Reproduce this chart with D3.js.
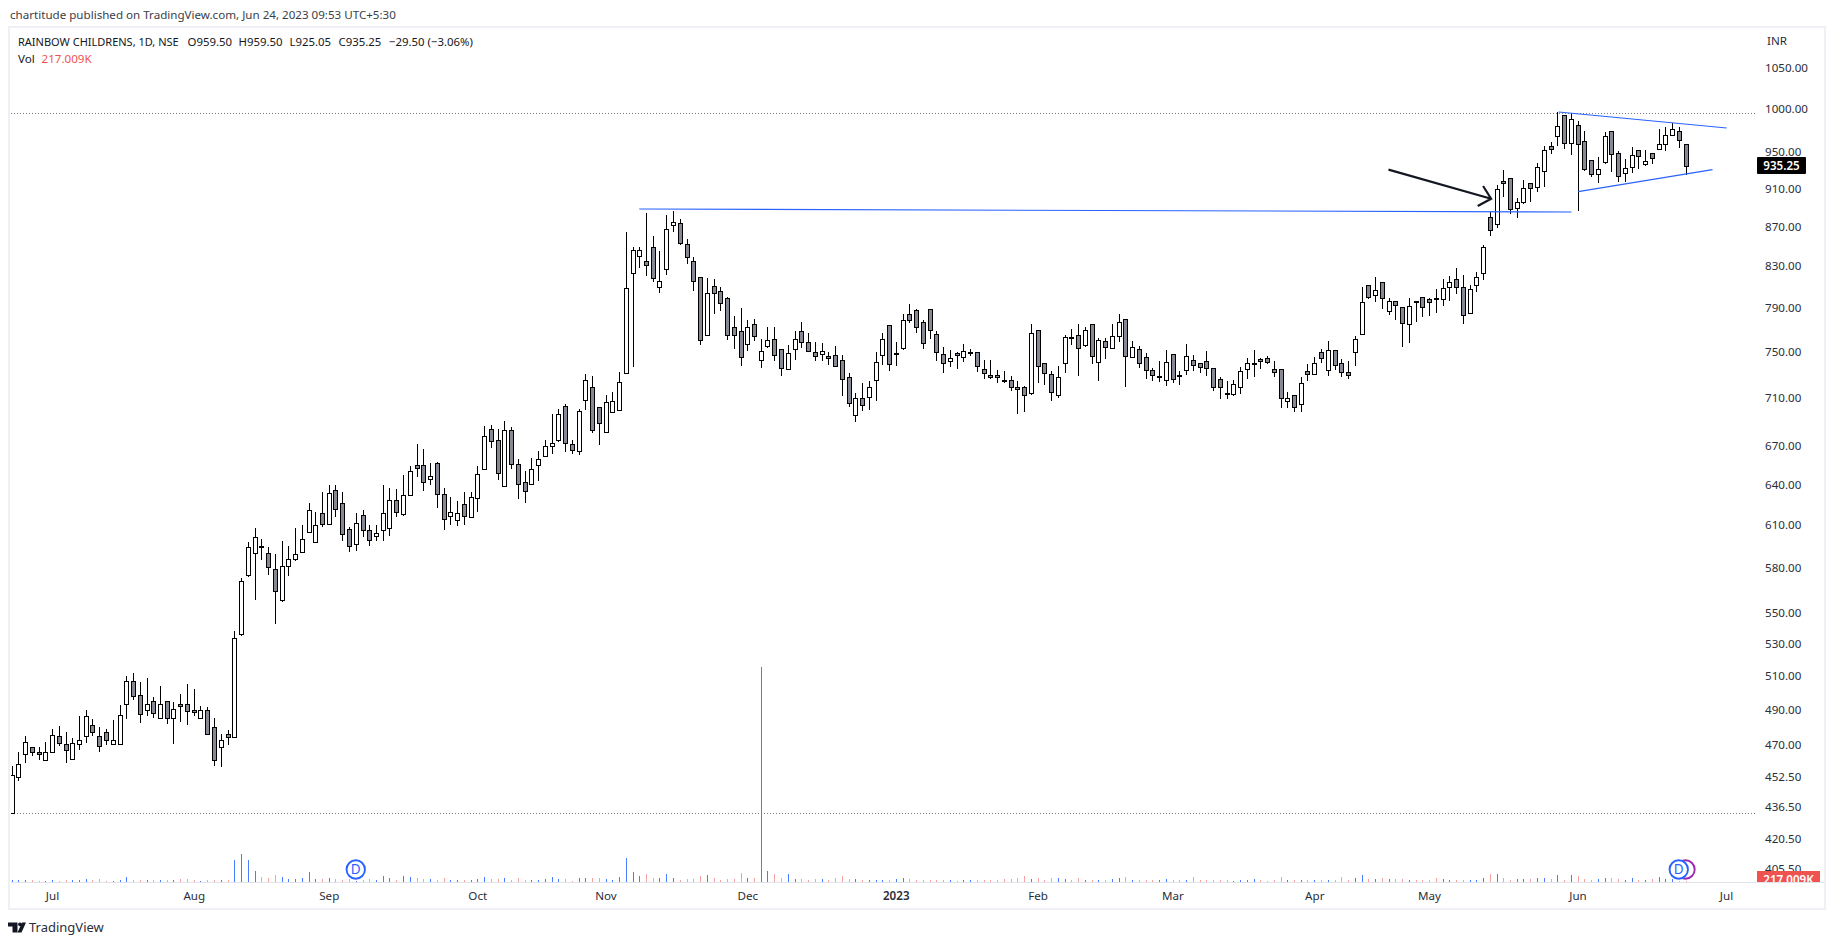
<!DOCTYPE html>
<html>
<head>
<meta charset="utf-8">
<script src="https://cdn.jsdelivr.net/npm/d3@7"></script>
<style>
  html, body { margin: 0; padding: 0; background: #fff; }
  svg { display: block; }
  text { font-family: "Noto Sans", sans-serif; fill: #131722; }
  .price-axis text, .time-axis text { font-size: 11.6px; fill: #2a2e39; }
</style>
</head>
<body>
<script>
// daily bars, oldest first
var opens = [433.3,452.2,464.7,468.9,465.8,461.4,465.8,474.8,470.3,462,
470.3,474.8,481,474.8,477,470.3,470.3,493.2,506.8,498.5,
489.7,495,485,495,485,493.2,493.2,489.7,485,489.7,
479.9,468.6,476,474.3,536,574.9,590,595.5,590,579,
558.1,581.1,585.9,590.7,605,597.9,618.8,610.7,635.9,626.2,
607.1,596.4,617.3,606.4,602.1,606.4,607.9,628.4,618,632.1,
655.1,655.1,644.3,656.6,632.9,616.5,613.6,625.4,615.8,629.9,
652.1,683.7,674.9,639,683,656,642.2,640.6,655.2,662.2,
670.2,675,702.8,671.8,666.2,707.8,718.8,702,681.4,697.8,
699.4,730.9,823,839.6,834.7,848.8,809.3,827,871.1,873.1,
851.8,834.7,819,764.6,810.3,805.4,798.9,771.8,768.2,756.4,
774.5,742.1,754.6,761,751.9,734.3,751.9,768.2,758.2,749.2,
747.4,745.6,746.5,742.1,727.4,695.3,709.4,710.3,724.8,746.5,
773.6,748,752.8,783.8,787.5,776.4,788.5,765.4,747.5,741.3,
748.4,744.8,749,749.3,734.2,729.2,729,724.7,724.7,718.8,
718.8,713.6,769,739.5,730,711.9,739.5,762.6,764.4,755.5,
774.6,740.4,759,752.8,763.5,779.2,744.8,752,744.8,733.3,
727.6,724.7,747.5,729,733.3,742.2,739.5,741.3,735,725.6,
713.6,712.8,718.8,734.2,739.2,743.1,744,734.2,734.2,706.8,
711.9,704.3,732.6,730,749.4,733.3,751.2,739.6,731.5,749.4,
765.5,811.4,801.8,814.4,786.8,796.1,790.5,774.8,796,799.9,
798,798.9,798,809.5,817.3,809.5,785,811.4,823,879.7,
872.3,918.1,921.3,889.1,895.4,915.9,911.6,928.9,957,968.3,
992.9,960.4,981.1,962.7,941.2,925.7,938.9,974,949.1,926.8,
933.3,952.5,936.7,949.1,953.6,959.3,969.4,974,959.5];

var highs = [458.2,465.8,474.8,468.9,468.6,471.4,478.7,480.4,477,473.7,
486.2,489.7,484.4,479.9,478.7,483.8,492.6,509.9,511.7,506.2,
508.7,497.3,503.8,495,494.4,499.1,505,502,492,491.4,
485,476,478.2,537.9,572.8,597.9,607.9,600,594.3,589.3,
598.6,595,607.9,610,626.2,619.5,634.4,639.6,639.6,634.4,
608.6,618.8,621,610,610,639.6,637.4,636.6,647.4,654.3,
671.6,667.6,656.6,657.4,637.4,630.7,627.7,634.4,634.4,654.3,
686.1,686.9,683.7,690.3,685.4,659.8,650.6,660.6,666.2,675,
696.1,700.3,704.4,675,700.3,730,728.3,702,712,714.5,
731.7,864,848.8,848.8,883.7,859.9,844.7,881.6,885.8,877.3,
856.9,838.6,819,818.1,817.1,809.3,799.8,782,789.5,778.2,
779.1,761,771.8,771.8,751.9,755.5,768.2,776.3,766.4,758.2,
757.3,749.2,754.6,746.5,730.9,713.6,722.2,723.9,749.2,766.4,
773.6,758.2,783.8,793.4,788.5,778.3,788.5,768.1,753.7,751.4,
749.3,756.4,752,749.3,742.2,742.2,733.3,732.5,728.2,723.8,
719.6,774.6,769,739.5,732.5,736.9,764.4,770,774.6,771.8,
774.6,761.7,761.7,774.6,783.8,779.2,759,754.6,748.4,735,
741.3,751.1,747.5,732.5,756.4,746.6,739.5,750.2,735,727.3,
723.9,724.7,736,744,751.1,744,745.7,741.3,734.2,714.5,
711.9,727.3,738.7,745.2,752,759.2,751.2,743.2,741.4,763.7,
809.5,811.4,819.2,814.4,798.9,796.1,790.5,798.9,796.1,799.9,
798.9,807.5,817.3,820.2,827.9,821.1,811.4,824,850.9,884.9,
914.1,930,921.3,899.6,919.2,915.9,937.8,957,961.5,996.8,
992.9,995.3,985.8,974,941.2,944.6,972.8,974,951.4,942.3,
955.9,952.5,952.5,949.1,976.8,978.8,983.5,978.8,959.5];

var lows = [433.3,450.4,460.2,463.9,461.8,461.4,465.8,469.5,460.2,462,
467.3,471.2,475.2,466.1,470.1,470.3,470.3,484.8,495.4,482.5,
486.5,485.4,485,481.9,470.3,483,481.3,486.5,485,475.3,
458.5,457.5,470.1,474.3,534.5,573.5,558.5,585.6,575.3,542.3,
556.8,574,584.3,590.7,605,597.1,608.6,610.7,615.8,598.4,
591.2,591.9,601.9,595.5,598.4,599,602.6,615.8,616.5,632.1,
645.6,635.6,639.6,622.9,606.4,610.5,609.3,610,615.8,620,
652.1,668.4,644,638.2,652.1,629.3,626.3,640.6,642.6,662.2,
663.5,673.4,665.1,663.5,662.7,699.4,680.6,670.7,681.4,697.8,
699.4,730.9,736,827.6,819.7,814.2,804.2,820.7,864.6,850.8,
831.8,806,755.2,764.6,783.9,786.4,760,751.6,736.6,750.7,
758.8,734.9,752.5,741.8,727.9,734.3,742.7,752.5,749.2,741,
741,737.5,736,710.8,701.7,689.2,698.3,699.2,706.7,738.1,
732.3,736.6,750.8,775.2,766.9,752,761.4,741,730.5,736,
734.8,740.1,745.4,732.2,725.3,725.3,721.9,722.7,715.1,695.8,
698.2,711.7,721.9,720.2,707.4,709.9,731.3,755.2,727.9,753.7,
738.4,723.6,742.8,752.8,757.9,718.5,744.8,735.6,725.3,723.6,
722.9,719.3,722.7,720.2,729.6,733,730.5,728.7,715.1,709.1,
709.1,710.8,713.3,725.3,727.6,734.8,738.4,727.3,701.5,701.5,
697.5,698.2,724,730,739.6,727.9,733.3,727.3,725.4,736.6,
765.5,798,795.1,788.7,782.8,778.1,753.6,757.2,776.3,781,
781.9,784.6,791.1,795.8,802.8,774.8,785,804.4,816,859.9,
868.5,900.7,882.4,878.3,893.3,895.1,906.1,911.2,948.4,957.4,
954,946.4,885.6,928.9,922.1,915.6,936.6,927.5,916.6,916.6,
926.4,931.8,935.1,936.3,953.6,951,969.4,954.4,925.05];

var closes = [453.3,459.3,471.4,466.1,464.7,465.8,475.3,470.8,466.9,470.8,
472.5,486.2,477,469.1,472.5,472.5,486.7,506.8,497.9,487.3,
493.2,487.9,493.2,485,490.3,492,489.1,488.5,489.7,476,
461.4,472.5,474.3,533.4,570.8,594.3,601.4,595,580.4,564,
581.1,585.9,589.3,600,621,610,610.7,633.6,621.7,603.6,
595,611.4,606.4,599.3,604.3,618.8,628.4,619.5,632.1,650.5,
652.8,641.9,646.6,632.9,614.3,619.5,618.8,616.5,630.7,648.2,
678.1,674.1,648.9,683,656,640.6,635.2,652.1,659.8,670.2,
672.6,696.1,672.6,667,698.6,724.8,683,688.6,706.1,707,
723,808.3,845.7,845.7,830.8,818.1,815.2,867,874.1,852.8,
838.6,815.2,760,803.6,803.6,794.2,764.6,764.6,744.7,771.8,
763.7,750.1,760,746.5,735.2,748.3,761,758.2,750.1,745.6,
750.1,743.9,736.9,725.6,705.3,709.4,703.6,718.7,740.4,761,
738.7,748.8,778.3,778.3,771.8,757.3,769,749.3,739.5,744,
746.6,750.2,749.6,736.9,730.8,727.9,727.3,723.8,718.8,717.1,
711.9,766.3,736.9,730.8,714.5,727.3,762.6,761.7,752.8,769,
745.7,760,753.7,763.5,776.4,745.7,753.7,739.5,733.3,729,
728,740.4,725.6,728.2,745.7,737.7,736,735,718.2,718.8,
712.8,721.3,732.5,739.5,739.8,741.3,740.4,731.6,709.4,709.4,
701.8,722.2,730,739.6,744,751.2,737.8,731.5,728.9,761,
795.1,799.9,806.6,798.9,796.1,792.4,775.7,791.4,795.2,790.5,
795.1,798,808.5,814.4,809.5,783.1,807.5,819.2,848.9,866,
909.4,915.9,888,895.4,910.5,910.5,933.3,952.5,953.6,979.9,
960.4,988.2,959.3,931.1,925.7,931.1,968.3,948,923.5,932.2,
946.8,945.6,940,943.5,959.3,969.4,976.4,963.8,935.25];

// volume in thousands
var volumes = [400,400,400,400,200,200,400,200,333,400,
400,600,400,533,200,200,400,1000,400,400,
333,400,400,400,400,600,600,400,200,400,
400,400,400,4400,5600,4400,2200,1000,800,1400,
1000,600,600,800,2000,600,600,800,600,400,
600,200,400,600,400,1200,800,400,1200,1000,
800,600,600,400,800,400,400,400,400,600,
1000,600,600,800,400,800,400,400,400,533,
1000,600,600,200,800,800,800,800,600,400,
1000,4800,2000,1200,1600,800,800,1600,800,400,
600,600,1200,1400,800,400,600,600,1800,800,
800,43000,2200,1600,800,1600,600,600,400,600,
600,400,800,1200,600,600,400,400,333,333,
400,600,800,600,400,400,400,400,400,400,
200,400,400,400,400,400,400,600,600,800,
1200,600,800,400,800,800,600,400,800,400,
400,400,400,600,800,1000,400,400,400,400,
400,600,400,333,333,1000,400,400,400,400,
333,200,400,400,600,400,200,400,1000,400,
333,400,400,333,400,333,400,1000,400,800,
1400,600,600,800,600,600,600,400,400,333,
400,800,600,400,400,400,333,400,800,1600,
1600,800,400,600,600,600,800,800,600,1400,
333,1400,1200,600,400,600,800,800,600,400,
800,400,333,600,1000,600,600,133,217.009];

var priceTicks = [1050,1000,950,910,870,830,790,750,710,670,640,610,580,550,530,510,490,470,452.5,436.5,420.5,405.5];
var monthLabels = ["Jul","Aug","Sep","Oct","Nov","Dec","2023","Feb","Mar","Apr","May","Jun","Jul"];
var monthBars = [6,27,47,69,88,109,131,152,172,193,210,232,254];

var extremeLevels = [995, 433.3];
// drawn lines as [bar, price, bar, price]
var blueLines = [[93,888.1,231.1,884.9],[229.2,996.5,254.1,977.8],[232.1,906.6,252,930.6]];
var arrowLine = [204,930.6,219.2,899];
// bar index of the dividend markers
var dividendBars = [51,247];
var earningsBars = [248];

var legendTexts = ["RAINBOW CHILDRENS, 1D, NSE", "O959.50", "H959.50", "L925.05", "C935.25", "−29.50 (−3.06%)"];
var legendX = [18, 187.5, 238.5, 289.5, 338.5, 389];

var width = 1835, height = 945;
var paneLeft = 11, paneRight = 1757, paneTop = 28, paneBottom = 882;

var x = d3.scaleLinear().domain([0, 248]).range([11.5, 1685.5]);
var y = d3.scaleLog().domain([1050, 510]).range([68, 676]);
var yVol = d3.scaleLinear().domain([0, 43000]).range([paneBottom, 667]);

var bars = d3.range(closes.length);
var snap = function(i) { return Math.round(x(i)) + 0.5; };

var svg = d3.select("body").append("svg")
    .attr("width", width)
    .attr("height", height);

svg.append("text").attr("x", 10).attr("y", 19)
    .style("font-size", "11.6px")
    .style("fill", "#3a3e4a")
    .text("chartitude published on TradingView.com, Jun 24, 2023 09:53 UTC+5:30");

// frame of the chart
svg.append("rect")
    .attr("x", 9).attr("y", 27)
    .attr("width", 1816).attr("height", 882)
    .attr("fill", "#fff")
    .attr("stroke", "#eff0f5")
    .attr("stroke-width", 2);

svg.append("defs").append("clipPath").attr("id", "pane")
    .append("rect")
    .attr("x", paneLeft).attr("y", paneTop)
    .attr("width", paneRight - paneLeft).attr("height", paneBottom - paneTop);

var pane = svg.append("g").attr("clip-path", "url(#pane)");

// dotted lines at the high and the low
pane.selectAll(".extreme").data(extremeLevels).enter().append("line")
    .attr("class", "extreme")
    .attr("x1", paneLeft).attr("x2", paneRight)
    .attr("y1", function(d) { return Math.round(y(d)) + 0.5; })
    .attr("y2", function(d) { return Math.round(y(d)) + 0.5; })
    .attr("stroke", "#787b86")
    .attr("stroke-dasharray", "1,2");

// volume
pane.append("g").selectAll("rect").data(bars).enter().append("rect")
    .attr("x", function(i) { return Math.round(x(i)); })
    .attr("width", 1)
    .attr("y", function(i) { return yVol(volumes[i]); })
    .attr("height", function(i) { return paneBottom - yVol(volumes[i]); })
    .attr("shape-rendering", "crispEdges")
    .attr("fill", function(i) { return closes[i] >= opens[i] ? "#4a7cff" : "#f7a1a1"; });

// wicks then bodies
pane.append("g").selectAll("line").data(bars).enter().append("line")
    .attr("x1", snap).attr("x2", snap)
    .attr("y1", function(i) { return y(highs[i]); })
    .attr("y2", function(i) { return y(lows[i]); })
    .attr("stroke", "#000")
    .attr("stroke-width", 1)
    .attr("shape-rendering", "crispEdges");

pane.append("g").selectAll("rect").data(bars).enter().append("rect")
    .attr("x", function(i) { return snap(i) - 2; })
    .attr("width", 4)
    .attr("y", function(i) { return Math.round(y(Math.max(opens[i], closes[i]))) + 0.5; })
    .attr("height", function(i) {
        return Math.max(1, Math.round(Math.abs(y(opens[i]) - y(closes[i]))));
    })
    .attr("fill", function(i) { return closes[i] >= opens[i] ? "#fff" : "#868993"; })
    .attr("stroke", "#000")
    .attr("shape-rendering", "crispEdges");

// trend lines
pane.selectAll(".trend").data(blueLines).enter().append("line")
    .attr("class", "trend")
    .attr("x1", function(d) { return x(d[0]); })
    .attr("y1", function(d) { return y(d[1]); })
    .attr("x2", function(d) { return x(d[2]); })
    .attr("y2", function(d) { return y(d[3]); })
    .attr("stroke", "#2962ff")
    .attr("stroke-width", 1.1);

// arrow, the head is a fixed size at the tip
var tipX = x(arrowLine[2]), tipY = y(arrowLine[3]);
pane.append("path")
    .attr("d", "M" + x(arrowLine[0]) + "," + y(arrowLine[1]) + "L" + tipX + "," + tipY
        + "M" + (tipX - 8) + "," + (tipY - 12.7) + "L" + tipX + "," + tipY + "L" + (tipX - 13.4) + "," + (tipY + 7.3))
    .attr("fill", "none")
    .attr("stroke", "#131722")
    .attr("stroke-width", 2.2);

// separator above the time axis
svg.append("line")
    .attr("x1", paneLeft).attr("x2", 1824)
    .attr("y1", paneBottom + 0.5).attr("y2", paneBottom + 0.5)
    .attr("stroke", "#e0e3eb");

// marker circles sit on the volume
function marker(i, color, label) {
    var g = svg.append("g").attr("transform", "translate(" + x(i) + ",869.5)");
    g.append("circle").attr("r", 9.2).attr("fill", "#fff").attr("stroke", color).attr("stroke-width", 1.9);
    if (label) {
        g.append("text").attr("text-anchor", "middle").attr("y", 4.8)
            .style("font-size", "13.5px")
            .style("fill", color)
            .text(label);
    }
}
earningsBars.forEach(function(i) { marker(i, "#9c27b0", ""); });
dividendBars.forEach(function(i) { marker(i, "#2962ff", "D"); });

// axes
var priceAxis = d3.axisRight(y)
    .tickValues(priceTicks)
    .tickSize(0)
    .tickPadding(0)
    .tickFormat(d3.format(".2f"));

svg.append("g").attr("class", "price-axis")
    .attr("transform", "translate(1765,0)")
    .call(priceAxis)
    .call(function(g) { g.select(".domain").remove(); });

var timeAxis = d3.axisBottom(x)
    .tickValues(monthBars)
    .tickSize(0)
    .tickPadding(0)
    .tickFormat(function(d) { return monthLabels[monthBars.indexOf(d)]; });

svg.append("g").attr("class", "time-axis")
    .attr("transform", "translate(0,892)")
    .call(timeAxis)
    .call(function(g) {
        g.select(".domain").remove();
        g.selectAll("text").filter(function(d) { return d === 131; }).style("font-weight", 600);
    });

svg.append("text").attr("x", 1767).attr("y", 45)
    .style("font-size", "11.6px")
    .style("fill", "#2a2e39")
    .text("INR");

// last price and last volume labels
svg.append("rect")
    .attr("x", 1757).attr("y", y(closes[248]) - 8.5)
    .attr("width", 49).attr("height", 17)
    .attr("rx", 1)
    .attr("fill", "#000");
svg.append("text").attr("x", 1781.5).attr("y", y(closes[248]) + 4.5)
    .attr("text-anchor", "middle")
    .style("font-size", "11.6px").style("font-weight", 600).style("fill", "#fff")
    .text(d3.format(".2f")(closes[248]));

var volGroup = svg.append("g");
volGroup.append("defs").append("clipPath").attr("id", "vol-label")
    .append("rect").attr("x", 1757).attr("y", 871).attr("width", 63).attr("height", 11);
var volLabel = volGroup.append("g").attr("clip-path", "url(#vol-label)");
volLabel.append("rect")
    .attr("x", 1757).attr("y", 871)
    .attr("width", 63).attr("height", 17)
    .attr("fill", "#ef5350");
volLabel.append("text").attr("x", 1788.5).attr("y", 884)
    .attr("text-anchor", "middle")
    .style("font-size", "11.6px").style("font-weight", 600).style("fill", "#fff")
    .text("217.009K");

// header legend
svg.selectAll(".legend").data(legendTexts).enter().append("text")
    .attr("class", "legend")
    .attr("x", function(d, i) { return legendX[i]; })
    .attr("y", 46)
    .style("font-size", function(d, i) { return i === 0 ? "11px" : "11.4px"; })
    .text(function(d) { return d; });

svg.append("text").attr("x", 18).attr("y", 63).style("font-size", "11.6px").text("Vol");
svg.append("text").attr("x", 41.5).attr("y", 63)
    .style("font-size", "11.6px")
    .style("fill", "#ef5350")
    .text("217.009K");

// logo and name
svg.append("path")
    .attr("d", "M8,922.5H17.5V932.5H12.5V926.5H8Z M22,922.5H26L21.5,932.5H17.5Z")
    .attr("fill", "#131722");
svg.append("circle").attr("cx", 20).attr("cy", 924.3).attr("r", 1.9).attr("fill", "#131722");
svg.append("text").attr("x", 29).attr("y", 932)
    .style("font-size", "13px")
    .style("fill", "#2a2e39")
    .text("TradingView");
</script>
</body>
</html>
